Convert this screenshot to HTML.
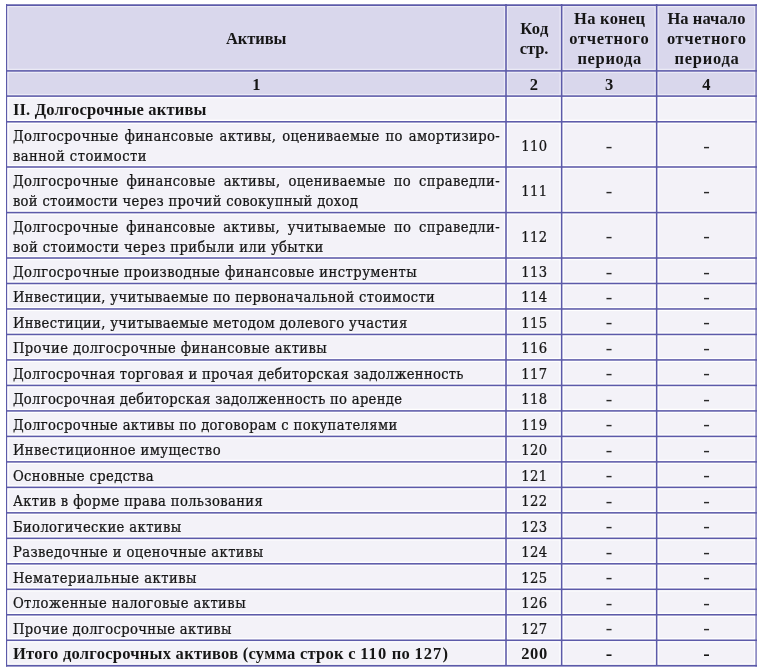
<!DOCTYPE html>
<html lang="ru"><head><meta charset="utf-8"><title>Активы</title>
<style>
html,body{margin:0;padding:0;background:#fff}
#t{position:relative;width:760px;height:671px;overflow:hidden;background:#fff;color:#161616}
#t svg{position:absolute;left:0;top:0}
#x{position:absolute;left:0;top:0;width:760px;height:671px;will-change:transform}
#x div{position:absolute;white-space:nowrap;line-height:20px;height:20px}
.r{font-family:"DejaVu Serif Condensed","Liberation Serif",serif;font-size:14.6px;-webkit-text-stroke:0.24px #161616}
.r.d{font-family:"Liberation Serif","DejaVu Serif",serif;font-size:19.5px;-webkit-text-stroke:0;color:#2a2a2a}
.b.d{font-size:19.5px}
.b{font-family:"Liberation Serif","DejaVu Serif",serif;font-size:16.5px;font-weight:bold}
</style></head><body>
<div id="t">
<svg width="760" height="671" viewBox="0 0 760 671">
<rect x="6.55" y="5.00" width="749.55" height="91.10" fill="#d9d7ec"/>
<rect x="6.55" y="96.10" width="749.55" height="569.65" fill="#f3f2f8"/>
<rect x="6.55" y="2.85" width="749.55" height="4.30" fill="#ebeaf5"/>
<rect x="6.55" y="68.75" width="749.55" height="4.30" fill="#ebeaf5"/>
<rect x="6.55" y="93.95" width="749.55" height="2.15" fill="#ebeaf5"/>
<rect x="6.55" y="96.10" width="749.55" height="2.15" fill="#ffffff"/>
<rect x="6.55" y="119.65" width="749.55" height="4.30" fill="#ffffff"/>
<rect x="6.55" y="164.85" width="749.55" height="4.30" fill="#ffffff"/>
<rect x="6.55" y="210.45" width="749.55" height="4.30" fill="#ffffff"/>
<rect x="6.55" y="255.85" width="749.55" height="4.30" fill="#ffffff"/>
<rect x="6.55" y="281.33" width="749.55" height="4.30" fill="#ffffff"/>
<rect x="6.55" y="306.82" width="749.55" height="4.30" fill="#ffffff"/>
<rect x="6.55" y="332.30" width="749.55" height="4.30" fill="#ffffff"/>
<rect x="6.55" y="357.79" width="749.55" height="4.30" fill="#ffffff"/>
<rect x="6.55" y="383.27" width="749.55" height="4.30" fill="#ffffff"/>
<rect x="6.55" y="408.76" width="749.55" height="4.30" fill="#ffffff"/>
<rect x="6.55" y="434.24" width="749.55" height="4.30" fill="#ffffff"/>
<rect x="6.55" y="459.73" width="749.55" height="4.30" fill="#ffffff"/>
<rect x="6.55" y="485.21" width="749.55" height="4.30" fill="#ffffff"/>
<rect x="6.55" y="510.69" width="749.55" height="4.30" fill="#ffffff"/>
<rect x="6.55" y="536.18" width="749.55" height="4.30" fill="#ffffff"/>
<rect x="6.55" y="561.66" width="749.55" height="4.30" fill="#ffffff"/>
<rect x="6.55" y="587.15" width="749.55" height="4.30" fill="#ffffff"/>
<rect x="6.55" y="612.63" width="749.55" height="4.30" fill="#ffffff"/>
<rect x="6.55" y="638.12" width="749.55" height="4.30" fill="#ffffff"/>
<rect x="6.55" y="663.60" width="749.55" height="4.30" fill="#ffffff"/>
<rect x="4.40" y="5.00" width="4.30" height="91.10" fill="#ebeaf5"/>
<rect x="4.40" y="96.10" width="4.30" height="569.65" fill="#ffffff"/>
<rect x="503.85" y="5.00" width="4.30" height="91.10" fill="#ebeaf5"/>
<rect x="503.85" y="96.10" width="4.30" height="569.65" fill="#ffffff"/>
<rect x="559.50" y="5.00" width="4.30" height="91.10" fill="#ebeaf5"/>
<rect x="559.50" y="96.10" width="4.30" height="569.65" fill="#ffffff"/>
<rect x="654.50" y="5.00" width="4.30" height="91.10" fill="#ebeaf5"/>
<rect x="654.50" y="96.10" width="4.30" height="569.65" fill="#ffffff"/>
<rect x="753.95" y="5.00" width="4.30" height="91.10" fill="#ebeaf5"/>
<rect x="753.95" y="96.10" width="4.30" height="569.65" fill="#ffffff"/>
<rect x="0.00" y="0.00" width="760.00" height="4.00" fill="#fff"/>
<rect x="0.00" y="0.00" width="6.00" height="671.00" fill="#fff"/>
<rect x="757.00" y="0.00" width="3.00" height="671.00" fill="#fff"/>
<rect x="0.00" y="666.60" width="760.00" height="4.40" fill="#fff"/>
<rect x="6.00" y="4.30" width="751.00" height="1.70" fill="#5c5aa9"/>
<rect x="6.00" y="70.12" width="751.00" height="1.55" fill="#5c5aa9"/>
<rect x="6.00" y="95.32" width="751.00" height="1.55" fill="#5c5aa9"/>
<rect x="6.00" y="121.02" width="751.00" height="1.55" fill="#5c5aa9"/>
<rect x="6.00" y="166.22" width="751.00" height="1.55" fill="#5c5aa9"/>
<rect x="6.00" y="211.82" width="751.00" height="1.55" fill="#5c5aa9"/>
<rect x="6.00" y="257.23" width="751.00" height="1.55" fill="#5c5aa9"/>
<rect x="6.00" y="282.71" width="751.00" height="1.55" fill="#5c5aa9"/>
<rect x="6.00" y="308.19" width="751.00" height="1.55" fill="#5c5aa9"/>
<rect x="6.00" y="333.68" width="751.00" height="1.55" fill="#5c5aa9"/>
<rect x="6.00" y="359.16" width="751.00" height="1.55" fill="#5c5aa9"/>
<rect x="6.00" y="384.65" width="751.00" height="1.55" fill="#5c5aa9"/>
<rect x="6.00" y="410.13" width="751.00" height="1.55" fill="#5c5aa9"/>
<rect x="6.00" y="435.62" width="751.00" height="1.55" fill="#5c5aa9"/>
<rect x="6.00" y="461.10" width="751.00" height="1.55" fill="#5c5aa9"/>
<rect x="6.00" y="486.58" width="751.00" height="1.55" fill="#5c5aa9"/>
<rect x="6.00" y="512.07" width="751.00" height="1.55" fill="#5c5aa9"/>
<rect x="6.00" y="537.55" width="751.00" height="1.55" fill="#5c5aa9"/>
<rect x="6.00" y="563.04" width="751.00" height="1.55" fill="#5c5aa9"/>
<rect x="6.00" y="588.52" width="751.00" height="1.55" fill="#5c5aa9"/>
<rect x="6.00" y="614.01" width="751.00" height="1.55" fill="#5c5aa9"/>
<rect x="6.00" y="639.49" width="751.00" height="1.55" fill="#5c5aa9"/>
<rect x="6.00" y="664.90" width="751.00" height="1.70" fill="#5c5aa9"/>
<rect x="6.00" y="4.00" width="1.15" height="662.60" fill="#5c5aa9"/>
<rect x="505.23" y="4.00" width="1.55" height="662.00" fill="#5c5aa9"/>
<rect x="560.88" y="4.00" width="1.55" height="662.00" fill="#5c5aa9"/>
<rect x="655.88" y="4.00" width="1.55" height="662.00" fill="#5c5aa9"/>
<rect x="755.30" y="4.00" width="1.60" height="662.60" fill="#5c5aa9" fill-opacity="0.75"/>
</svg>
<div id="x">
<div class="b" style="top:29.03px;letter-spacing:-0.086px;left:156.11px;width:200px;text-align:center">Активы</div>
<div class="b" style="top:18.93px;letter-spacing:0.417px;left:434.41px;width:200px;text-align:center">Код</div>
<div class="b" style="top:39.03px;letter-spacing:-0.079px;left:434.06px;width:200px;text-align:center">стр.</div>
<div class="b" style="top:9.13px;letter-spacing:0.287px;left:509.74px;width:200px;text-align:center">На конец</div>
<div class="b" style="top:28.73px;letter-spacing:0.679px;left:509.29px;width:200px;text-align:center">отчетного</div>
<div class="b" style="top:48.83px;letter-spacing:0.652px;left:509.68px;width:200px;text-align:center">периода</div>
<div class="b" style="top:9.13px;letter-spacing:0.061px;left:606.48px;width:200px;text-align:center">На начало</div>
<div class="b" style="top:28.73px;letter-spacing:0.629px;left:606.76px;width:200px;text-align:center">отчетного</div>
<div class="b" style="top:48.83px;letter-spacing:0.735px;left:607.07px;width:200px;text-align:center">периода</div>
<div class="b" style="top:75.13px;left:156.45px;width:200px;text-align:center">1</div>
<div class="b" style="top:75.13px;left:433.75px;width:200px;text-align:center">2</div>
<div class="b" style="top:75.13px;left:509.05px;width:200px;text-align:center">3</div>
<div class="b" style="top:75.13px;left:606.45px;width:200px;text-align:center">4</div>
<div class="b" style="top:99.53px;letter-spacing:0.173px;left:12.90px">II. Долгосрочные активы</div>
<div class="r" style="top:125.95px;letter-spacing:0.394px;left:12.90px;width:487.19px;text-align:justify;text-align-last:justify">Долгосрочные финансовые активы, оцениваемые по амортизиро-</div>
<div class="r" style="top:145.95px;letter-spacing:0.487px;left:12.90px">ванной стоимости</div>
<div class="r" style="top:135.95px;letter-spacing:0.419px;left:434.41px;width:200px;text-align:center">110</div>
<div class="r d" style="top:135.52px;left:509.10px;width:200px;text-align:center">-</div>
<div class="r d" style="top:135.52px;left:606.40px;width:200px;text-align:center">-</div>
<div class="r" style="top:171.15px;letter-spacing:0.394px;left:12.90px;width:487.19px;text-align:justify;text-align-last:justify">Долгосрочные финансовые активы, оцениваемые по справедли-</div>
<div class="r" style="top:191.15px;letter-spacing:0.328px;left:12.90px">вой стоимости через прочий совокупный доход</div>
<div class="r" style="top:181.15px;letter-spacing:0.419px;left:434.41px;width:200px;text-align:center">111</div>
<div class="r d" style="top:180.72px;left:509.10px;width:200px;text-align:center">-</div>
<div class="r d" style="top:180.72px;left:606.40px;width:200px;text-align:center">-</div>
<div class="r" style="top:216.75px;letter-spacing:0.394px;left:12.90px;width:487.19px;text-align:justify;text-align-last:justify">Долгосрочные финансовые активы, учитываемые по справедли-</div>
<div class="r" style="top:236.75px;letter-spacing:0.419px;left:12.90px">вой стоимости через прибыли или убытки</div>
<div class="r" style="top:226.75px;letter-spacing:0.419px;left:434.41px;width:200px;text-align:center">112</div>
<div class="r d" style="top:226.32px;left:509.10px;width:200px;text-align:center">-</div>
<div class="r d" style="top:226.32px;left:606.40px;width:200px;text-align:center">-</div>
<div class="r" style="top:261.95px;letter-spacing:0.456px;left:12.90px">Долгосрочные производные финансовые инструменты</div>
<div class="r" style="top:261.95px;letter-spacing:0.419px;left:434.41px;width:200px;text-align:center">113</div>
<div class="r d" style="top:261.52px;left:509.10px;width:200px;text-align:center">-</div>
<div class="r d" style="top:261.52px;left:606.40px;width:200px;text-align:center">-</div>
<div class="r" style="top:287.43px;letter-spacing:0.370px;left:12.90px">Инвестиции, учитываемые по первоначальной стоимости</div>
<div class="r" style="top:287.43px;letter-spacing:0.419px;left:434.41px;width:200px;text-align:center">114</div>
<div class="r d" style="top:287.00px;left:509.10px;width:200px;text-align:center">-</div>
<div class="r d" style="top:287.00px;left:606.40px;width:200px;text-align:center">-</div>
<div class="r" style="top:312.92px;letter-spacing:0.364px;left:12.90px">Инвестиции, учитываемые методом долевого участия</div>
<div class="r" style="top:312.92px;letter-spacing:0.419px;left:434.41px;width:200px;text-align:center">115</div>
<div class="r d" style="top:312.49px;left:509.10px;width:200px;text-align:center">-</div>
<div class="r d" style="top:312.49px;left:606.40px;width:200px;text-align:center">-</div>
<div class="r" style="top:338.40px;letter-spacing:0.414px;left:12.90px">Прочие долгосрочные финансовые активы</div>
<div class="r" style="top:338.40px;letter-spacing:0.419px;left:434.41px;width:200px;text-align:center">116</div>
<div class="r d" style="top:337.97px;left:509.10px;width:200px;text-align:center">-</div>
<div class="r d" style="top:337.97px;left:606.40px;width:200px;text-align:center">-</div>
<div class="r" style="top:363.89px;letter-spacing:0.298px;left:12.90px">Долгосрочная торговая и прочая дебиторская задолженность</div>
<div class="r" style="top:363.89px;letter-spacing:0.419px;left:434.41px;width:200px;text-align:center">117</div>
<div class="r d" style="top:363.46px;left:509.10px;width:200px;text-align:center">-</div>
<div class="r d" style="top:363.46px;left:606.40px;width:200px;text-align:center">-</div>
<div class="r" style="top:389.37px;letter-spacing:0.301px;left:12.90px">Долгосрочная дебиторская задолженность по аренде</div>
<div class="r" style="top:389.37px;letter-spacing:0.419px;left:434.41px;width:200px;text-align:center">118</div>
<div class="r d" style="top:388.94px;left:509.10px;width:200px;text-align:center">-</div>
<div class="r d" style="top:388.94px;left:606.40px;width:200px;text-align:center">-</div>
<div class="r" style="top:414.85px;letter-spacing:0.356px;left:12.90px">Долгосрочные активы по договорам с покупателями</div>
<div class="r" style="top:414.85px;letter-spacing:0.419px;left:434.41px;width:200px;text-align:center">119</div>
<div class="r d" style="top:414.43px;left:509.10px;width:200px;text-align:center">-</div>
<div class="r d" style="top:414.43px;left:606.40px;width:200px;text-align:center">-</div>
<div class="r" style="top:440.34px;letter-spacing:0.433px;left:12.90px">Инвестиционное имущество</div>
<div class="r" style="top:440.34px;letter-spacing:0.419px;left:434.41px;width:200px;text-align:center">120</div>
<div class="r d" style="top:439.91px;left:509.10px;width:200px;text-align:center">-</div>
<div class="r d" style="top:439.91px;left:606.40px;width:200px;text-align:center">-</div>
<div class="r" style="top:465.82px;letter-spacing:0.372px;left:12.90px">Основные средства</div>
<div class="r" style="top:465.82px;letter-spacing:0.419px;left:434.41px;width:200px;text-align:center">121</div>
<div class="r d" style="top:465.39px;left:509.10px;width:200px;text-align:center">-</div>
<div class="r d" style="top:465.39px;left:606.40px;width:200px;text-align:center">-</div>
<div class="r" style="top:491.31px;letter-spacing:0.375px;left:12.90px">Актив в форме права пользования</div>
<div class="r" style="top:491.31px;letter-spacing:0.419px;left:434.41px;width:200px;text-align:center">122</div>
<div class="r d" style="top:490.88px;left:509.10px;width:200px;text-align:center">-</div>
<div class="r d" style="top:490.88px;left:606.40px;width:200px;text-align:center">-</div>
<div class="r" style="top:516.79px;letter-spacing:0.397px;left:12.90px">Биологические активы</div>
<div class="r" style="top:516.79px;letter-spacing:0.419px;left:434.41px;width:200px;text-align:center">123</div>
<div class="r d" style="top:516.36px;left:509.10px;width:200px;text-align:center">-</div>
<div class="r d" style="top:516.36px;left:606.40px;width:200px;text-align:center">-</div>
<div class="r" style="top:542.28px;letter-spacing:0.421px;left:12.90px">Разведочные и оценочные активы</div>
<div class="r" style="top:542.28px;letter-spacing:0.419px;left:434.41px;width:200px;text-align:center">124</div>
<div class="r d" style="top:541.85px;left:509.10px;width:200px;text-align:center">-</div>
<div class="r d" style="top:541.85px;left:606.40px;width:200px;text-align:center">-</div>
<div class="r" style="top:567.76px;letter-spacing:0.491px;left:12.90px">Нематериальные активы</div>
<div class="r" style="top:567.76px;letter-spacing:0.419px;left:434.41px;width:200px;text-align:center">125</div>
<div class="r d" style="top:567.33px;left:509.10px;width:200px;text-align:center">-</div>
<div class="r d" style="top:567.33px;left:606.40px;width:200px;text-align:center">-</div>
<div class="r" style="top:593.25px;letter-spacing:0.440px;left:12.90px">Отложенные налоговые активы</div>
<div class="r" style="top:593.25px;letter-spacing:0.419px;left:434.41px;width:200px;text-align:center">126</div>
<div class="r d" style="top:592.82px;left:509.10px;width:200px;text-align:center">-</div>
<div class="r d" style="top:592.82px;left:606.40px;width:200px;text-align:center">-</div>
<div class="r" style="top:618.73px;letter-spacing:0.364px;left:12.90px">Прочие долгосрочные активы</div>
<div class="r" style="top:618.73px;letter-spacing:0.419px;left:434.41px;width:200px;text-align:center">127</div>
<div class="r d" style="top:618.30px;left:509.10px;width:200px;text-align:center">-</div>
<div class="r d" style="top:618.30px;left:606.40px;width:200px;text-align:center">-</div>
<div class="b" style="top:643.70px;letter-spacing:0.260px;left:12.90px">Итого долгосрочных активов (сумма строк с <span style="letter-spacing:1.110px">110</span> по <span style="letter-spacing:1.110px">127</span>)</div>
<div class="b" style="top:643.70px;letter-spacing:0.575px;left:434.49px;width:200px;text-align:center">200</div>
<div class="b d" style="top:643.78px;left:509.10px;width:200px;text-align:center">-</div>
<div class="b d" style="top:643.78px;left:606.40px;width:200px;text-align:center">-</div>
</div>
</div>
</body></html>
